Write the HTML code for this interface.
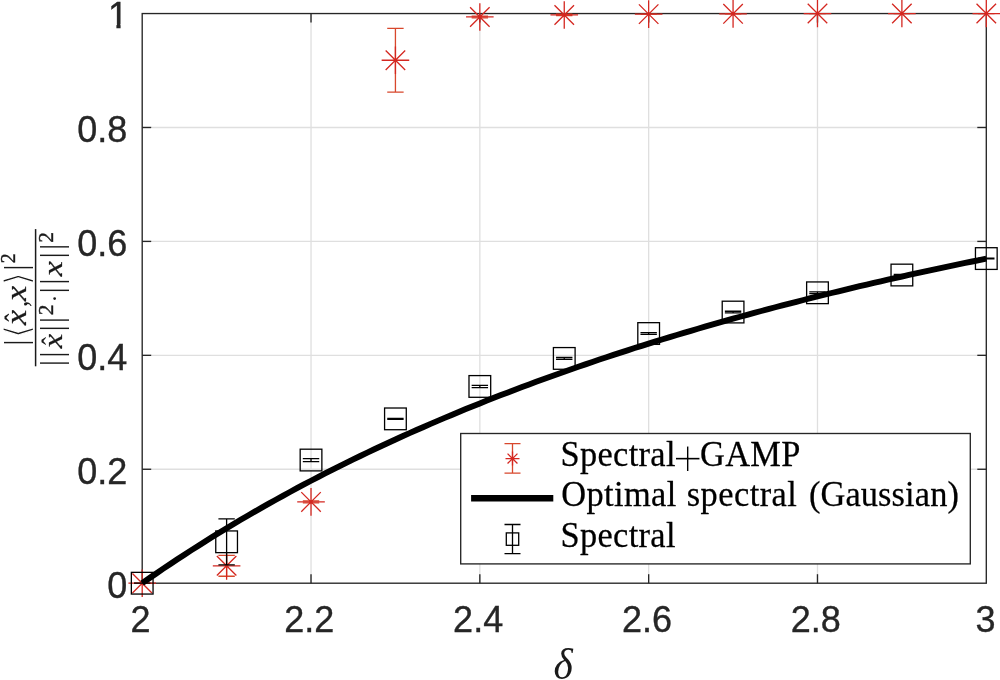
<!DOCTYPE html>
<html lang="en"><head><meta charset="utf-8"><title>Spectral vs GAMP</title>
<style>html,body{margin:0;padding:0;background:#fff;}body{width:1000px;height:680px;overflow:hidden;}svg{display:block;}.tk{font-family:"Liberation Sans",Arial,Helvetica,sans-serif;font-size:36px;fill:#262626;stroke:#262626;stroke-width:0.35px;}.lg{font-family:"Liberation Serif","DejaVu Serif",serif;font-size:34.4px;fill:#000;font-kerning:none;stroke:#000;stroke-width:0.25px;}.mi{font-family:"Liberation Serif","DejaVu Serif",serif;font-style:italic;fill:#1a1a1a;}.mr{font-family:"Liberation Serif","DejaVu Serif",serif;fill:#1a1a1a;}.ms{font-family:"DejaVu Sans","DejaVu Serif",sans-serif;fill:#1a1a1a;}</style></head><body>
<svg width="1000" height="680" viewBox="0 0 1000 680">
<rect x="0" y="0" width="1000" height="680" fill="#fff"/>
<g stroke="#dfdfdf" stroke-width="1.3" fill="none">
<line x1="311.02" y1="13.55" x2="311.02" y2="583.2"/>
<line x1="479.84" y1="13.55" x2="479.84" y2="583.2"/>
<line x1="648.66" y1="13.55" x2="648.66" y2="583.2"/>
<line x1="817.48" y1="13.55" x2="817.48" y2="583.2"/>
<line x1="142.2" y1="469.27" x2="986.3" y2="469.27"/>
<line x1="142.2" y1="355.34" x2="986.3" y2="355.34"/>
<line x1="142.2" y1="241.41" x2="986.3" y2="241.41"/>
<line x1="142.2" y1="127.48" x2="986.3" y2="127.48"/>
</g>
<g stroke="#262626" stroke-width="1.35" fill="none">
<rect x="142.2" y="13.55" width="844.10" height="569.65"/>
<line x1="311.02" y1="583.2" x2="311.02" y2="574.2"/>
<line x1="311.02" y1="13.55" x2="311.02" y2="22.55"/>
<line x1="142.2" y1="469.27" x2="151.2" y2="469.27"/>
<line x1="986.3" y1="469.27" x2="977.3" y2="469.27"/>
<line x1="479.84" y1="583.2" x2="479.84" y2="574.2"/>
<line x1="479.84" y1="13.55" x2="479.84" y2="22.55"/>
<line x1="142.2" y1="355.34" x2="151.2" y2="355.34"/>
<line x1="986.3" y1="355.34" x2="977.3" y2="355.34"/>
<line x1="648.66" y1="583.2" x2="648.66" y2="574.2"/>
<line x1="648.66" y1="13.55" x2="648.66" y2="22.55"/>
<line x1="142.2" y1="241.41" x2="151.2" y2="241.41"/>
<line x1="986.3" y1="241.41" x2="977.3" y2="241.41"/>
<line x1="817.48" y1="583.2" x2="817.48" y2="574.2"/>
<line x1="817.48" y1="13.55" x2="817.48" y2="22.55"/>
<line x1="142.2" y1="127.48" x2="151.2" y2="127.48"/>
<line x1="986.3" y1="127.48" x2="977.3" y2="127.48"/>
</g>
<g class="tk">
<text x="140.50" y="631.5" text-anchor="middle">2</text>
<text x="309.32" y="631.5" text-anchor="middle">2.2</text>
<text x="478.14" y="631.5" text-anchor="middle">2.4</text>
<text x="646.96" y="631.5" text-anchor="middle">2.6</text>
<text x="815.78" y="631.5" text-anchor="middle">2.8</text>
<text x="985.40" y="631.5" text-anchor="middle">3</text>
<text x="127.4" y="597.50" text-anchor="end">0</text>
<text x="127.4" y="483.57" text-anchor="end">0.2</text>
<text x="127.4" y="369.64" text-anchor="end">0.4</text>
<text x="127.4" y="255.71" text-anchor="end">0.6</text>
<text x="127.4" y="141.78" text-anchor="end">0.8</text>
<text x="128.0" y="27.85" text-anchor="end">1</text>
</g>
<rect x="108.5" y="24.2" width="7.9" height="6" fill="#fff"/><rect x="120.6" y="24.2" width="7.4" height="6" fill="#fff"/>
<g>
<path d="M142.20 583.20L142.20 583.20M134.00 583.20L150.40 583.20M134.00 583.20L150.40 583.20" stroke="#d8472c" stroke-width="1.3" fill="none"/>
<path d="M128.40 583.20L156.00 583.20M132.44 573.44L151.96 592.96M142.20 569.40L142.20 597.00M151.96 573.44L132.44 592.96" stroke="#d42720" stroke-width="1.3" fill="none"/>
<path d="M226.61 555.43L226.61 576.23M218.41 555.43L234.81 555.43M218.41 576.23L234.81 576.23" stroke="#d8472c" stroke-width="1.3" fill="none"/>
<path d="M212.81 565.83L240.41 565.83M216.85 556.07L236.37 575.58M226.61 552.03L226.61 579.63M236.37 556.07L216.85 575.58" stroke="#d42720" stroke-width="1.3" fill="none"/>
<path d="M311.02 500.91L311.02 502.91M302.82 500.91L319.22 500.91M302.82 502.91L319.22 502.91" stroke="#d8472c" stroke-width="1.3" fill="none"/>
<path d="M297.22 501.91L324.82 501.91M301.26 492.15L320.78 511.67M311.02 488.11L311.02 515.71M320.78 492.15L301.26 511.67" stroke="#d42720" stroke-width="1.3" fill="none"/>
<path d="M395.43 28.46L395.43 92.06M387.23 28.46L403.63 28.46M387.23 92.06L403.63 92.06" stroke="#d8472c" stroke-width="1.3" fill="none"/>
<path d="M381.63 60.26L409.23 60.26M385.67 50.50L405.19 70.02M395.43 46.46L395.43 74.06M405.19 50.50L385.67 70.02" stroke="#d42720" stroke-width="1.3" fill="none"/>
<path d="M479.84 16.07L479.84 17.87M471.64 16.07L488.04 16.07M471.64 17.87L488.04 17.87" stroke="#d8472c" stroke-width="1.3" fill="none"/>
<path d="M466.04 16.97L493.64 16.97M470.08 7.21L489.60 26.73M479.84 3.17L479.84 30.77M489.60 7.21L470.08 26.73" stroke="#d42720" stroke-width="1.3" fill="none"/>
<path d="M564.25 14.27L564.25 15.67M556.05 14.27L572.45 14.27M556.05 15.67L572.45 15.67" stroke="#d8472c" stroke-width="1.3" fill="none"/>
<path d="M550.45 14.97L578.05 14.97M554.49 5.22L574.01 24.73M564.25 1.17L564.25 28.77M574.01 5.22L554.49 24.73" stroke="#d42720" stroke-width="1.3" fill="none"/>
<path d="M648.66 14.12L648.66 14.12M640.46 14.12L656.86 14.12M640.46 14.12L656.86 14.12" stroke="#d8472c" stroke-width="1.3" fill="none"/>
<path d="M634.86 14.12L662.46 14.12M638.90 4.36L658.42 23.88M648.66 0.32L648.66 27.92M658.42 4.36L638.90 23.88" stroke="#d42720" stroke-width="1.3" fill="none"/>
<path d="M733.07 13.83L733.07 13.83M724.87 13.83L741.27 13.83M724.87 13.83L741.27 13.83" stroke="#d8472c" stroke-width="1.3" fill="none"/>
<path d="M719.27 13.83L746.87 13.83M723.31 4.08L742.83 23.59M733.07 0.03L733.07 27.63M742.83 4.08L723.31 23.59" stroke="#d42720" stroke-width="1.3" fill="none"/>
<path d="M817.48 13.55L817.48 13.55M809.28 13.55L825.68 13.55M809.28 13.55L825.68 13.55" stroke="#d8472c" stroke-width="1.3" fill="none"/>
<path d="M803.68 13.55L831.28 13.55M807.72 3.79L827.24 23.31M817.48 -0.25L817.48 27.35M827.24 3.79L807.72 23.31" stroke="#d42720" stroke-width="1.3" fill="none"/>
<path d="M901.89 13.55L901.89 13.55M893.69 13.55L910.09 13.55M893.69 13.55L910.09 13.55" stroke="#d8472c" stroke-width="1.3" fill="none"/>
<path d="M888.09 13.55L915.69 13.55M892.13 3.79L911.65 23.31M901.89 -0.25L901.89 27.35M911.65 3.79L892.13 23.31" stroke="#d42720" stroke-width="1.3" fill="none"/>
<path d="M986.30 13.55L986.30 13.55M978.10 13.55L994.50 13.55M978.10 13.55L994.50 13.55" stroke="#d8472c" stroke-width="1.3" fill="none"/>
<path d="M972.50 13.55L1000.10 13.55M976.54 3.79L996.06 23.31M986.30 -0.25L986.30 27.35M996.06 3.79L976.54 23.31" stroke="#d42720" stroke-width="1.3" fill="none"/>
</g>
<polyline points="142.20,583.20 149.23,578.29 156.27,573.45 163.30,568.67 170.34,563.95 177.37,559.29 184.40,554.68 191.44,550.13 198.47,545.64 205.51,541.21 212.54,536.83 219.58,532.50 226.61,528.23 233.64,524.00 240.68,519.83 247.71,515.71 254.75,511.64 261.78,507.62 268.81,503.64 275.85,499.72 282.88,495.83 289.92,492.00 296.95,488.21 303.99,484.46 311.02,480.76 318.05,477.10 325.09,473.48 332.12,469.91 339.16,466.37 346.19,462.88 353.22,459.42 360.26,456.01 367.29,452.63 374.33,449.29 381.36,445.99 388.40,442.73 395.43,439.50 402.46,436.31 409.50,433.15 416.53,430.03 423.57,426.94 430.60,423.88 437.64,420.86 444.67,417.88 451.70,414.92 458.74,412.00 465.77,409.10 472.81,406.24 479.84,403.41 486.87,400.61 493.91,397.84 500.94,395.10 507.98,392.39 515.01,389.70 522.05,387.05 529.08,384.42 536.11,381.82 543.15,379.24 550.18,376.69 557.22,374.17 564.25,371.68 571.28,369.21 578.32,366.76 585.35,364.34 592.39,361.94 599.42,359.57 606.45,357.22 613.49,354.90 620.52,352.60 627.56,350.32 634.59,348.06 641.63,345.83 648.66,343.62 655.69,341.43 662.73,339.26 669.76,337.11 676.80,334.99 683.83,332.88 690.86,330.80 697.90,328.73 704.93,326.69 711.97,324.66 719.00,322.66 726.04,320.67 733.07,318.70 740.10,316.75 747.14,314.82 754.17,312.91 761.21,311.01 768.24,309.13 775.27,307.27 782.31,305.43 789.34,303.60 796.38,301.80 803.41,300.00 810.45,298.23 817.48,296.47 824.51,294.73 831.55,293.00 838.58,291.29 845.62,289.59 852.65,287.91 859.68,286.24 866.72,284.59 873.75,282.96 880.79,281.33 887.82,279.73 894.86,278.13 901.89,276.55 908.92,274.99 915.96,273.44 922.99,271.90 930.03,270.38 937.06,268.86 944.10,267.37 951.13,265.88 958.16,264.41 965.20,262.95 972.23,261.50 979.27,260.07 986.30,258.65" fill="none" stroke="#000" stroke-width="5.9" stroke-linejoin="round"/>
<g>
<path d="M142.20 583.20L142.20 583.20M134.00 583.20L150.40 583.20M134.00 583.20L150.40 583.20" stroke="#000" stroke-width="1.3" fill="none"/>
<rect x="131.35" y="572.35" width="21.7" height="21.7" fill="none" stroke="#000" stroke-width="1.3"/>
<path d="M226.61 518.79L226.61 564.79M218.41 518.79L234.81 518.79M218.41 564.79L234.81 564.79" stroke="#000" stroke-width="1.3" fill="none"/>
<rect x="215.76" y="530.94" width="21.7" height="21.7" fill="none" stroke="#000" stroke-width="1.3"/>
<path d="M311.02 458.54L311.02 461.54M302.82 458.54L319.22 458.54M302.82 461.54L319.22 461.54" stroke="#000" stroke-width="1.3" fill="none"/>
<rect x="300.17" y="449.19" width="21.7" height="21.7" fill="none" stroke="#000" stroke-width="1.3"/>
<path d="M395.43 418.36L395.43 419.36M387.23 418.36L403.63 418.36M387.23 419.36L403.63 419.36" stroke="#000" stroke-width="1.3" fill="none"/>
<rect x="384.58" y="408.01" width="21.7" height="21.7" fill="none" stroke="#000" stroke-width="1.3"/>
<path d="M479.84 385.29L479.84 387.59M471.64 385.29L488.04 385.29M471.64 387.59L488.04 387.59" stroke="#000" stroke-width="1.3" fill="none"/>
<rect x="468.99" y="375.59" width="21.7" height="21.7" fill="none" stroke="#000" stroke-width="1.3"/>
<path d="M564.25 357.52L564.25 359.32M556.05 357.52L572.45 357.52M556.05 359.32L572.45 359.32" stroke="#000" stroke-width="1.3" fill="none"/>
<rect x="553.40" y="347.57" width="21.7" height="21.7" fill="none" stroke="#000" stroke-width="1.3"/>
<path d="M648.66 332.62L648.66 334.42M640.46 332.62L656.86 332.62M640.46 334.42L656.86 334.42" stroke="#000" stroke-width="1.3" fill="none"/>
<rect x="637.81" y="322.67" width="21.7" height="21.7" fill="none" stroke="#000" stroke-width="1.3"/>
<path d="M733.07 311.25L733.07 312.85M724.87 311.25L741.27 311.25M724.87 312.85L741.27 312.85" stroke="#000" stroke-width="1.3" fill="none"/>
<rect x="722.22" y="301.20" width="21.7" height="21.7" fill="none" stroke="#000" stroke-width="1.3"/>
<path d="M817.48 291.89L817.48 293.69M809.28 291.89L825.68 291.89M809.28 293.69L825.68 293.69" stroke="#000" stroke-width="1.3" fill="none"/>
<rect x="806.63" y="281.94" width="21.7" height="21.7" fill="none" stroke="#000" stroke-width="1.3"/>
<path d="M901.89 274.52L901.89 275.52M893.69 274.52L910.09 274.52M893.69 275.52L910.09 275.52" stroke="#000" stroke-width="1.3" fill="none"/>
<rect x="891.04" y="264.17" width="21.7" height="21.7" fill="none" stroke="#000" stroke-width="1.3"/>
<path d="M986.30 258.26L986.30 258.86M978.10 258.26L994.50 258.26M978.10 258.86L994.50 258.86" stroke="#000" stroke-width="1.3" fill="none"/>
<rect x="975.45" y="247.71" width="21.7" height="21.7" fill="none" stroke="#000" stroke-width="1.3"/>
</g>
<rect x="460.7" y="433.5" width="509.60" height="130.40" fill="#fff" stroke="#262626" stroke-width="1.35"/>
<path d="M512.50 443.70L512.50 473.10M504.50 443.70L520.50 443.70M504.50 473.10L520.50 473.10" stroke="#d8472c" stroke-width="1.3" fill="none"/>
<path d="M505.50 458.60L519.50 458.60M507.55 453.65L517.45 463.55M512.50 451.60L512.50 465.60M517.45 453.65L507.55 463.55" stroke="#d42720" stroke-width="1.3" fill="none"/>
<line x1="471.1" y1="498.3" x2="553.3" y2="498.3" stroke="#000" stroke-width="6.6"/>
<path d="M512.50 524.50L512.50 553.70M504.50 524.50L520.50 524.50M504.50 553.70L520.50 553.70" stroke="#000" stroke-width="1.3" fill="none"/>
<rect x="506.3" y="532.9" width="12.4" height="12.4" fill="none" stroke="#000" stroke-width="1.3"/>
<g class="lg">
<text transform="matrix(1 0 0 1.03 0 -13.986)"><tspan x="560.50" y="466.2" letter-spacing="0.326">Spectral</tspan><tspan x="672.76" y="476.52" font-size="53.08" stroke="#fff" stroke-width="1.2">+</tspan><tspan x="700.09" y="466.2" letter-spacing="0.295">GAMP</tspan></text>
<text transform="matrix(1 0 0 1.03 0 -15.186)"><tspan x="561.19" y="506.2" letter-spacing="0.393">Optimal </tspan><tspan x="686.79" y="506.2" letter-spacing="0.448">spectral </tspan><tspan x="808.89" y="506.2" letter-spacing="0.122">(Gaussian)</tspan></text>
<text transform="matrix(1 0 0 1.03 0 -16.404)"><tspan x="560.50" y="546.8" letter-spacing="0.326">Spectral</tspan></text>
</g>
<text class="mi" font-size="30" transform="translate(553.59 679.37) scale(1.382 1.482)">δ</text>
<g transform="translate(0 366.3) rotate(-90)">
<line x1="0" y1="35.6" x2="137.2" y2="35.6" stroke="#1a1a1a" stroke-width="1.5"/>
<text class="mr" font-size="30" transform="translate(0.39 61.90) scale(0.970 1.081)">|</text>
<text class="mr" font-size="30" transform="translate(8.79 61.90) scale(0.970 1.081)">|</text>
<text class="mr" font-size="30" transform="translate(35.09 61.90) scale(0.970 1.081)">|</text>
<text class="mr" font-size="30" transform="translate(43.39 61.90) scale(0.970 1.081)">|</text>
<text class="mr" font-size="30" transform="translate(73.09 61.90) scale(0.970 1.081)">|</text>
<text class="mr" font-size="30" transform="translate(81.69 61.90) scale(0.970 1.081)">|</text>
<text class="mr" font-size="30" transform="translate(107.99 61.90) scale(0.970 1.081)">|</text>
<text class="mr" font-size="30" transform="translate(116.49 61.90) scale(0.970 1.081)">|</text>
<text class="mi" stroke="#1a1a1a" stroke-width="0.25" font-size="30" transform="translate(18.00 61.90) scale(1.085 0.944)">x</text>
<text class="mr" font-size="30" transform="translate(21.39 61.69) scale(0.801 0.982)">ˆ</text>
<text class="mr" stroke="#1a1a1a" stroke-width="0.6" font-size="30" transform="translate(51.16 53.00) scale(0.715 0.705)">2</text>
<text class="mr" font-size="30" transform="translate(63.75 61.94) scale(0.790 0.790)">·</text>
<text class="mi" stroke="#1a1a1a" stroke-width="0.25" font-size="30" transform="translate(90.12 61.90) scale(1.137 0.944)">x</text>
<text class="mr" stroke="#1a1a1a" stroke-width="0.6" font-size="30" transform="translate(123.47 53.00) scale(0.707 0.705)">2</text>
<text class="mr" font-size="30" transform="translate(20.79 25.88) scale(0.970 1.085)">|</text>
<text class="ms" stroke="#fff" stroke-width="1" font-size="30" transform="translate(28.20 28.80) scale(1.118 1.138)">⟨</text>
<text class="mi" stroke="#1a1a1a" stroke-width="0.25" font-size="30" transform="translate(41.42 25.60) scale(1.144 0.959)">x</text>
<text class="mr" font-size="30" transform="translate(44.58 25.39) scale(0.822 0.982)">ˆ</text>
<text class="mr" font-size="30" transform="translate(59.25 27.13) scale(0.828 1.012)">,</text>
<text class="mi" stroke="#1a1a1a" stroke-width="0.25" font-size="30" transform="translate(65.32 25.60) scale(1.144 0.959)">x</text>
<text class="ms" stroke="#fff" stroke-width="1" font-size="30" transform="translate(81.12 28.80) scale(1.118 1.138)">⟩</text>
<text class="mr" font-size="30" transform="translate(95.89 25.88) scale(0.970 1.085)">|</text>
<text class="mr" stroke="#1a1a1a" stroke-width="0.6" font-size="30" transform="translate(103.12 14.80) scale(0.665 0.665)">2</text>
</g>
</svg></body></html>
